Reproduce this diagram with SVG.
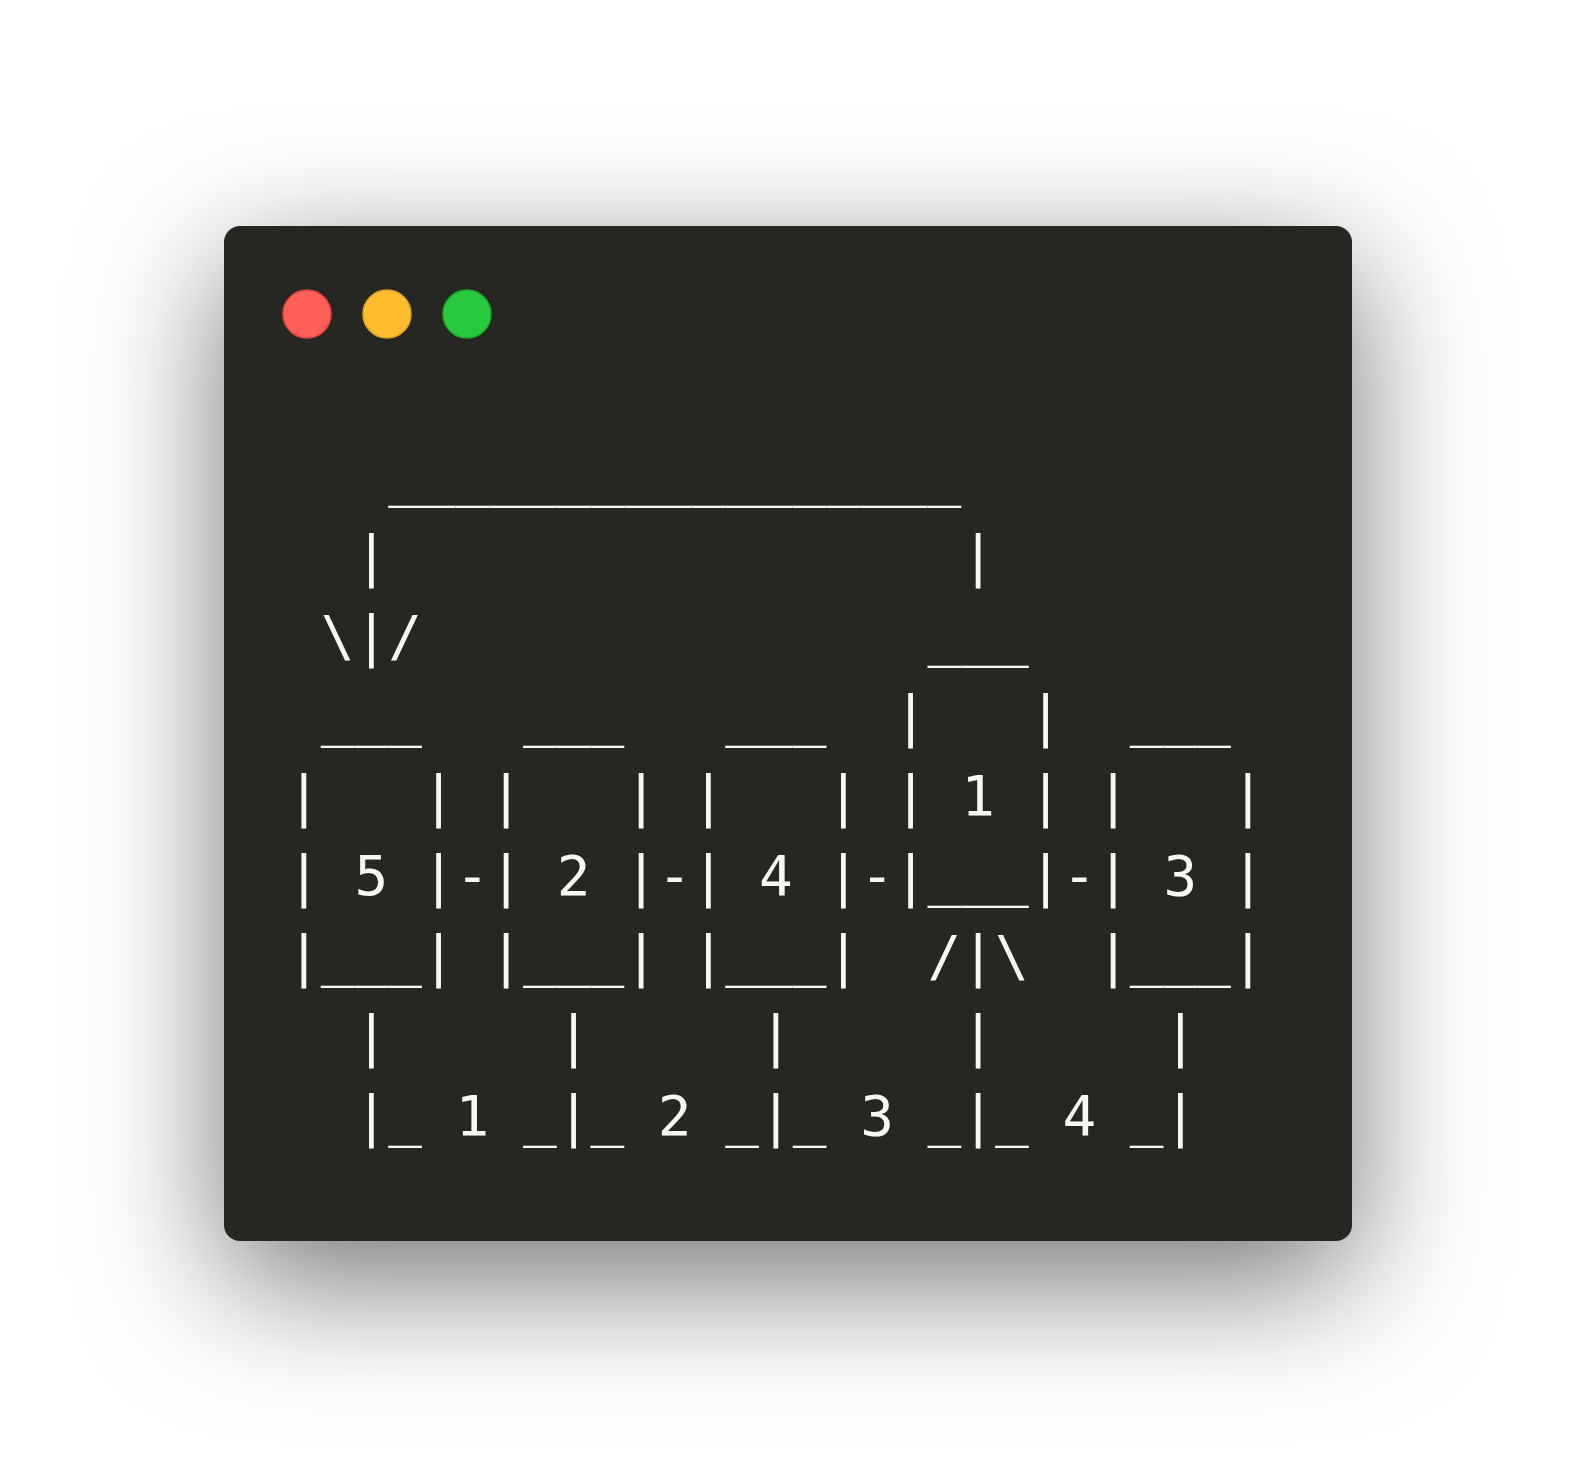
<svg xmlns="http://www.w3.org/2000/svg" width="1576" height="1468" viewBox="0 0 1576 1468">
<style>
.t{font-family:"DejaVu Sans Mono","Liberation Mono",monospace;font-size:56px;fill:#f8f8f2;white-space:pre}
</style>
<defs>
<filter id="sh" x="-30%" y="-30%" width="160%" height="160%">
<feDropShadow dx="0" dy="40" stdDeviation="68" flood-color="#000" flood-opacity="0.55"/>
</filter>
</defs>
<rect x="0" y="0" width="1576" height="1468" fill="#ffffff"/>
<g id="window">
<rect x="224" y="226" width="1128" height="1015" rx="16" ry="16" fill="#272822" filter="url(#sh)"/>
</g>
<g id="buttons">
<circle cx="307" cy="314" r="24" fill="#ff5f56" stroke="#e0443e" stroke-width="1.5"/>
<circle cx="387" cy="314" r="24" fill="#ffbd2e" stroke="#dea123" stroke-width="1.5"/>
<circle cx="467" cy="314" r="24" fill="#27c93f" stroke="#1aab29" stroke-width="1.5"/>
</g>
<g id="ascii" class="t">
<text class="t" x="287" y="494.6" xml:space="preserve">   _________________</text>
<text class="t" x="287" y="574.6" xml:space="preserve">  |                 |</text>
<text class="t" x="287" y="654.6" xml:space="preserve"> \|/               ___</text>
<text class="t" x="287" y="734.6" xml:space="preserve"> ___   ___   ___  |   |  ___</text>
<text class="t" x="287" y="814.6" xml:space="preserve">|   | |   | |   | | 1 | |   |</text>
<text class="t" x="287" y="894.6" xml:space="preserve">| 5 |-| 2 |-| 4 |-|___|-| 3 |</text>
<text class="t" x="287" y="974.6" xml:space="preserve">|___| |___| |___|  /|\  |___|</text>
<text class="t" x="287" y="1054.6" xml:space="preserve">  |     |     |     |     |</text>
<text class="t" x="287" y="1134.6" xml:space="preserve">  |_ 1 _|_ 2 _|_ 3 _|_ 4 _|</text>
</g>
</svg>
